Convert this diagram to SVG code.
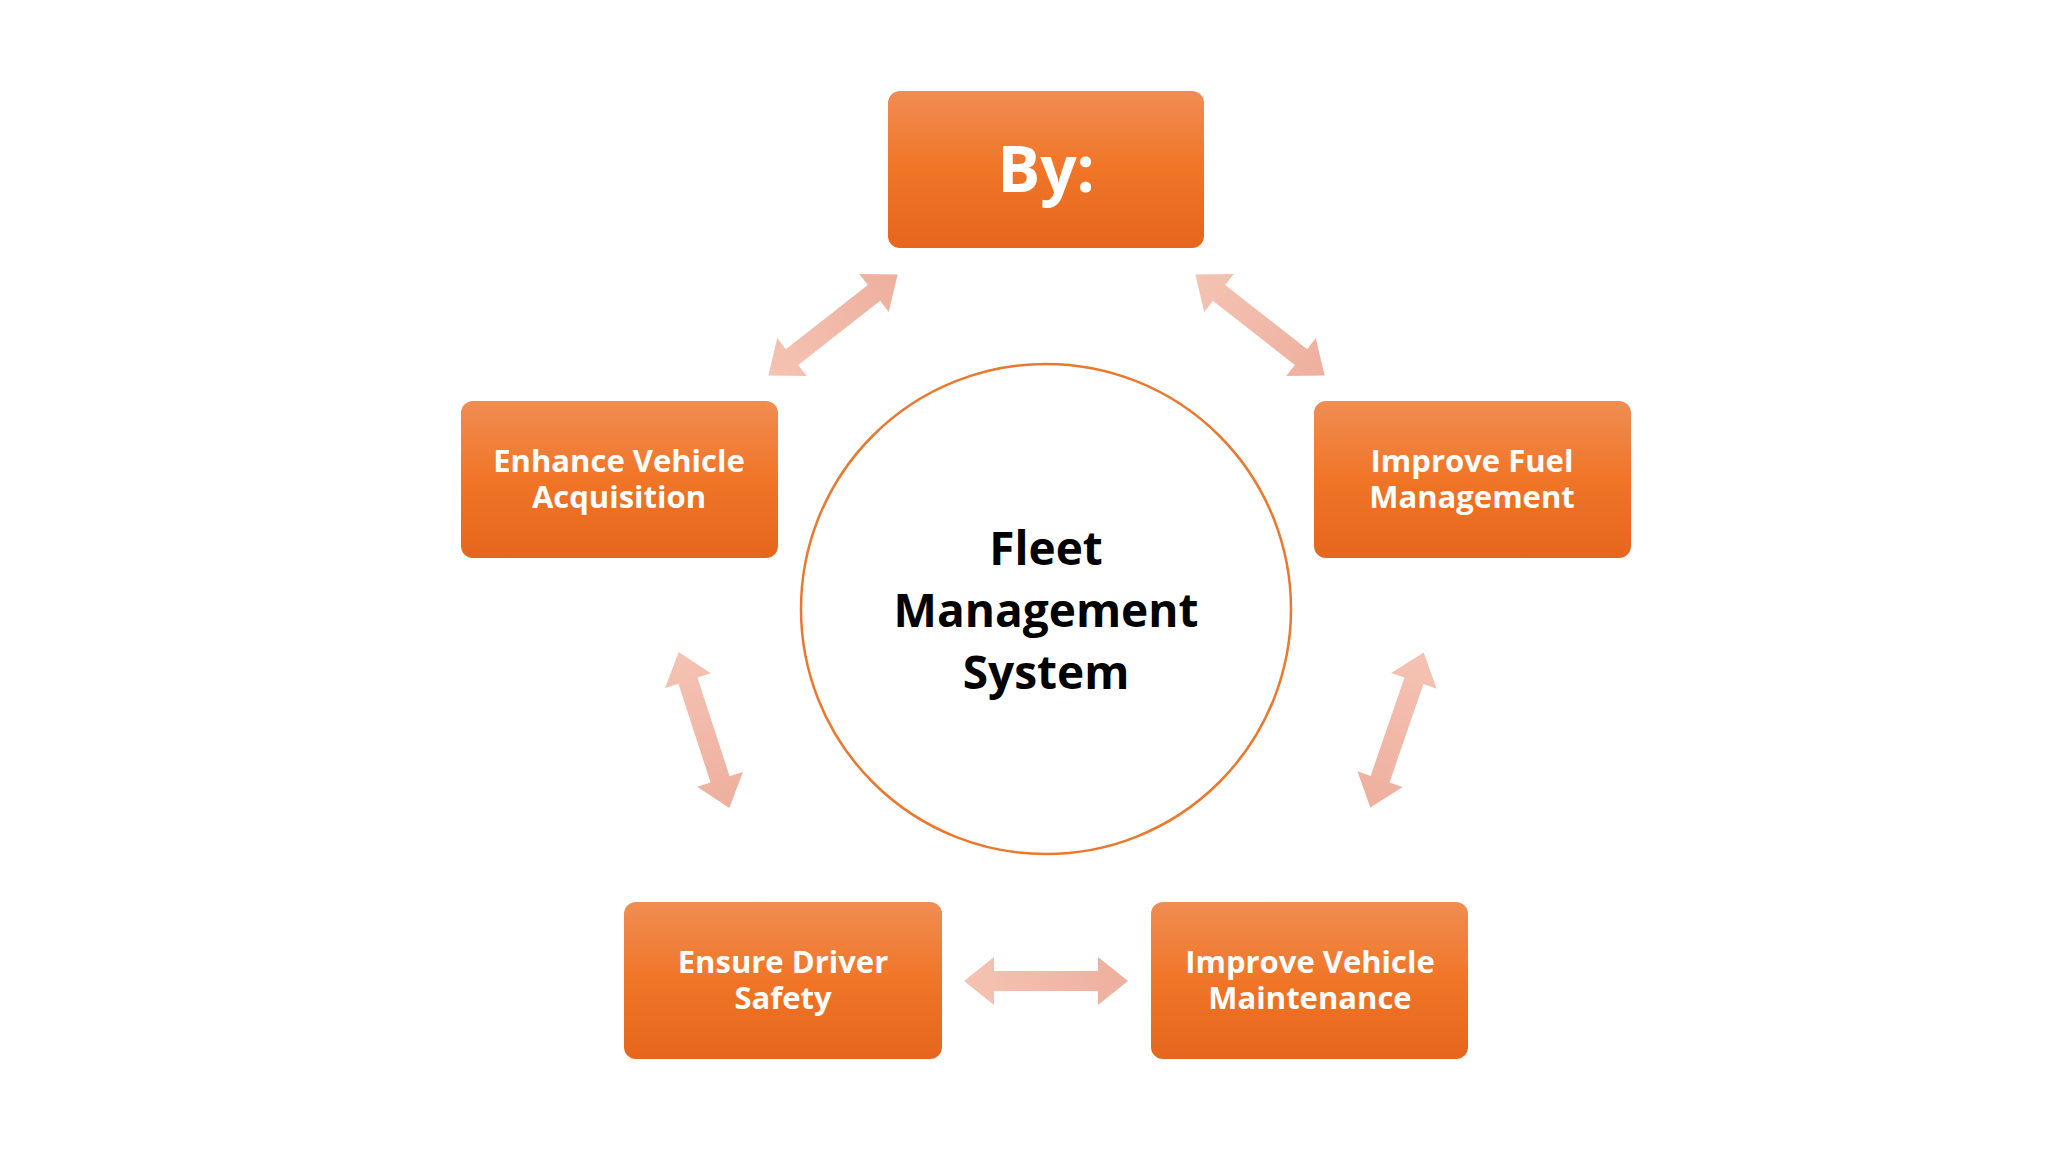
<svg xmlns="http://www.w3.org/2000/svg" width="2048" height="1152" viewBox="0 0 2048 1152">
<defs>
<linearGradient id="box" x1="0" y1="0" x2="0" y2="1"><stop offset="0" stop-color="#f08d52"/><stop offset="0.5" stop-color="#f07527"/><stop offset="1" stop-color="#e5661c"/></linearGradient>
<linearGradient id="arr" x1="0" y1="0" x2="1" y2="0"><stop offset="0" stop-color="#f5c3b3"/><stop offset="1" stop-color="#eeaf9e"/></linearGradient>
<polygon id="dbl" points="-82,0 -52,-24 -52,-10 52,-10 52,-24 82,0 52,24 52,10 -52,10 -52,24" fill="url(#arr)"/>
</defs>
<style>
.b{fill:url(#box)}
.t{font-family:"Open Sans","DejaVu Sans",sans-serif;font-weight:bold;fill:#fff;font-size:31px;text-anchor:middle}
.c{font-family:"Open Sans","DejaVu Sans",sans-serif;font-weight:bold;fill:#000;font-size:46px;text-anchor:middle}
</style>
<rect width="2048" height="1152" fill="#fff"/>
<g id="connectors">
<use href="#dbl" transform="translate(833,325) rotate(-38)"/>
<use href="#dbl" transform="translate(1260,325) rotate(38)"/>
<use href="#dbl" transform="translate(704,730) rotate(72)"/>
<use href="#dbl" transform="translate(1397,730) rotate(109)"/>
<use href="#dbl" transform="translate(1046,981)"/>
</g>
<g id="center"><circle cx="1046" cy="609" r="245" fill="#fff" stroke="#e8792f" stroke-width="2.5"/>
<text class="c" x="1046" y="565">Fleet</text><text class="c" x="1046" y="627">Management</text><text class="c" x="1046" y="689">System</text></g>
<g id="by"><rect class="b" x="888" y="91" width="316" height="157" rx="12"/><text class="t" x="1046" y="192" style="font-size:64px">By:</text></g>
<g id="acq"><rect class="b" x="461" y="401" width="317" height="157" rx="12"/><text class="t" x="619" y="472">Enhance Vehicle</text><text class="t" x="619" y="508">Acquisition</text></g>
<g id="fuel"><rect class="b" x="1314" y="401" width="317" height="157" rx="12"/><text class="t" x="1472" y="472">Improve Fuel</text><text class="t" x="1472" y="508">Management</text></g>
<g id="safety"><rect class="b" x="624" y="902" width="318" height="157" rx="12"/><text class="t" x="783" y="973">Ensure Driver</text><text class="t" x="783" y="1009">Safety</text></g>
<g id="maint"><rect class="b" x="1151" y="902" width="317" height="157" rx="12"/><text class="t" x="1310" y="973">Improve Vehicle</text><text class="t" x="1310" y="1009">Maintenance</text></g>
</svg>
